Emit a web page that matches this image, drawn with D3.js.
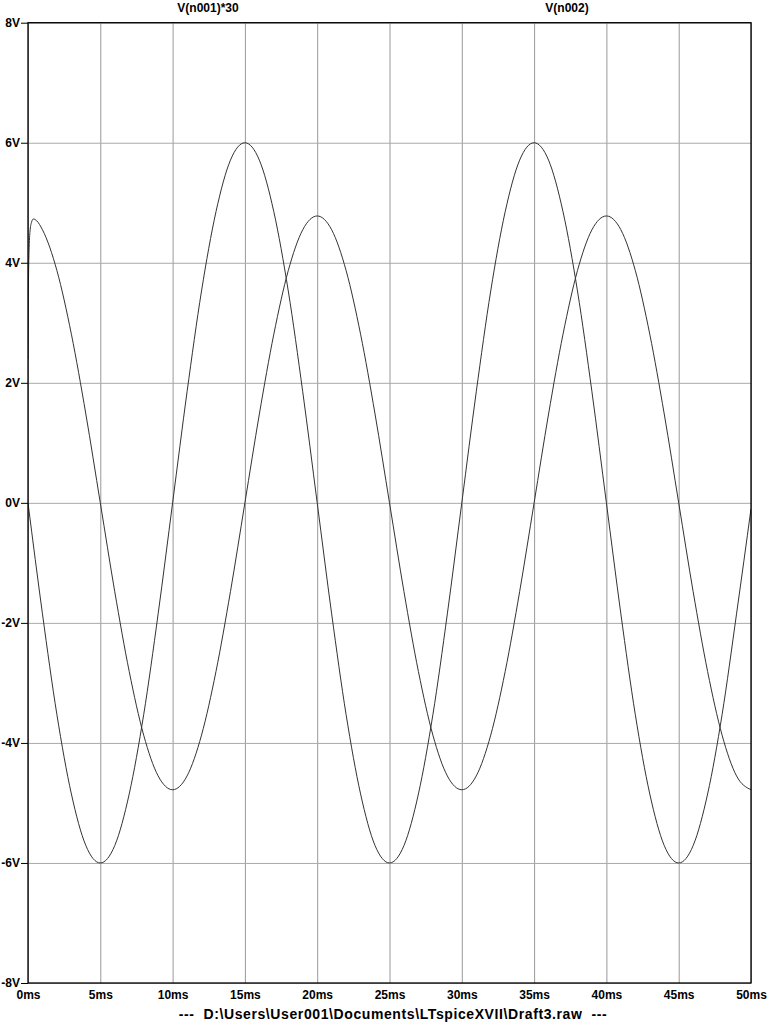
<html>
<head>
  <meta charset="utf-8">
  <title>LTspice - Draft3.raw</title>
  <style>
    body {
        margin: 0;
        background: #fff;
    }
    text {
        font-family: "Liberation Sans", Arial, sans-serif;
        font-weight: bold;
        font-size: 12px;
        fill: #000;
    }
  </style>
  <script src="https://d3js.org/d3.v7.min.js"></script>
</head>
<body>
  <div id="chart"></div>

<script>
// time axis (ms), one sample per ms
var timeMs = [0, 1, 2, 3, 4, 5, 6, 7, 8, 9,
              10, 11, 12, 13, 14, 15, 16, 17, 18, 19,
              20, 21, 22, 23, 24, 25, 26, 27, 28, 29,
              30, 31, 32, 33, 34, 35, 36, 37, 38, 39,
              40, 41, 42, 43, 44, 45, 46, 47, 48, 49, 50];

// V(n001)*30 (volts)
var vN001x30 = [0, -1.85, -3.53, -4.85, -5.71, -6.0, -5.71, -4.85, -3.53, -1.85,
                0, 1.85, 3.53, 4.85, 5.71, 6.0, 5.71, 4.85, 3.53, 1.85,
                0, -1.85, -3.53, -4.85, -5.71, -6.0, -5.71, -4.85, -3.53, -1.85,
                0, 1.85, 3.53, 4.85, 5.71, 6.0, 5.71, 4.85, 3.53, 1.85,
                0, -1.85, -3.53, -4.85, -5.71, -6.0, -5.71, -4.85, -3.53, -1.85, -0.1];

// V(n002): start-up spike, then steady trace
var n002StartMs = [0, 0.03, 0.08, 0.15, 0.25, 0.37, 0.6];
var n002StartV  = [2.4, 3.6, 4.25, 4.55, 4.68, 4.73, 4.7];
var vN002 = [4.78, 4.55, 3.87, 2.81, 1.48, 0, -1.48, -2.81, -3.87, -4.55,
             -4.78, -4.55, -3.87, -2.81, -1.48, 0, 1.48, 2.81, 3.87, 4.55,
             4.78, 4.55, 3.87, 2.81, 1.48, 0, -1.48, -2.81, -3.87, -4.55,
             -4.78, -4.55, -3.87, -2.81, -1.48, 0, 1.48, 2.81, 3.87, 4.55,
             4.78, 4.55, 3.87, 2.81, 1.48, 0, -1.48, -2.81, -3.87, -4.55, -4.78];

var xTicks = [0, 5, 10, 15, 20, 25, 30, 35, 40, 45, 50];
var yTicks = [-8, -6, -4, -2, 0, 2, 4, 6, 8];

var traceNames = ["V(n001)*30", "V(n002)"];
var fileTitle = "---  D:\\Users\\User001\\Documents\\LTspiceXVII\\Draft3.raw  ---";

// build the point lists
var n001Points = timeMs.map(function(t, i) { return [t, vN001x30[i]]; });
var n002Points = n002StartMs.map(function(t, i) { return [t, n002StartV[i]]; })
    .concat(timeMs.map(function(t, i) { return [t, vN002[i]]; }).filter(function(d) { return d[0] >= 1; }));

var W = 768, H = 1024;
var plotL = 28, plotR = 751, plotT = 22.7, plotB = 983;

var x = d3.scaleLinear().domain([0, 50]).range([plotL, plotR]);
var y = d3.scaleLinear().domain([-8, 8]).range([plotB, plotT]);

var svg = d3.select("#chart").append("svg")
    .attr("width", W)
    .attr("height", H)
    .style("display", "block");

svg.append("rect").attr("width", W).attr("height", H).attr("fill", "#fff");

// grid
var gx = svg.append("g")
    .attr("transform", "translate(0," + plotB + ")")
    .call(d3.axisBottom(x).tickValues(xTicks).tickSize(-(plotB - plotT)).tickFormat(""));
gx.select(".domain").remove();
gx.selectAll("line").attr("stroke", "#999");

var gy = svg.append("g")
    .attr("transform", "translate(" + plotL + ",0)")
    .call(d3.axisRight(y).tickValues(yTicks).tickSize(plotR - plotL).tickFormat(""));
gy.select(".domain").remove();
gy.selectAll("line").attr("stroke", "#aaa");

// traces
svg.append("clipPath").attr("id", "plotclip")
  .append("rect").attr("x", plotL).attr("y", plotT).attr("width", plotR - plotL).attr("height", plotB - plotT);

var line = d3.line()
    .x(function(d) { return x(d[0]); })
    .y(function(d) { return y(d[1]); })
    .curve(d3.curveMonotoneX);

[n001Points, n002Points].forEach(function(pts) {
  svg.append("path")
      .datum(pts)
      .attr("clip-path", "url(#plotclip)")
      .attr("fill", "none")
      .attr("stroke", "#333")
      .attr("stroke-width", 1)
      .attr("d", line);
});

// frame
svg.append("rect")
    .attr("x", plotL).attr("y", plotT)
    .attr("width", plotR - plotL).attr("height", plotB - plotT)
    .attr("fill", "none").attr("stroke", "#000").attr("stroke-width", 1.3);

// y axis
var ay = svg.append("g")
    .attr("transform", "translate(" + plotL + ",0)")
    .call(d3.axisLeft(y).tickValues(yTicks).tickSize(7).tickPadding(1)
        .tickFormat(function(d) { return String(d) + "V"; }));
ay.select(".domain").remove();
ay.selectAll("line").attr("stroke", "#000");
ay.selectAll("text").attr("font-size", null).attr("font-family", null).attr("fill", "#000");

// x axis
var ax = svg.append("g")
    .attr("transform", "translate(0," + plotB + ")")
    .call(d3.axisBottom(x).tickValues(xTicks).tickSize(0).tickPadding(7)
        .tickFormat(function(d) { return d + "ms"; }));
ax.select(".domain").remove();
ax.selectAll("text").attr("font-size", null).attr("font-family", null).attr("fill", "#000");

// trace names
svg.selectAll(".trace-name")
    .data(traceNames)
    .enter().append("text")
    .attr("class", "trace-name")
    .attr("x", function(d, i) { return i === 0 ? 208 : 567; })
    .attr("y", 12)
    .attr("text-anchor", "middle")
    .text(function(d) { return d; });

// file name
svg.append("text")
    .attr("x", 393)
    .attr("y", 1019)
    .attr("text-anchor", "middle")
    .style("font-size", "14px")
    .style("letter-spacing", "0.6px")
    .style("white-space", "pre")
    .text(fileTitle);
</script>
</body>
</html>
